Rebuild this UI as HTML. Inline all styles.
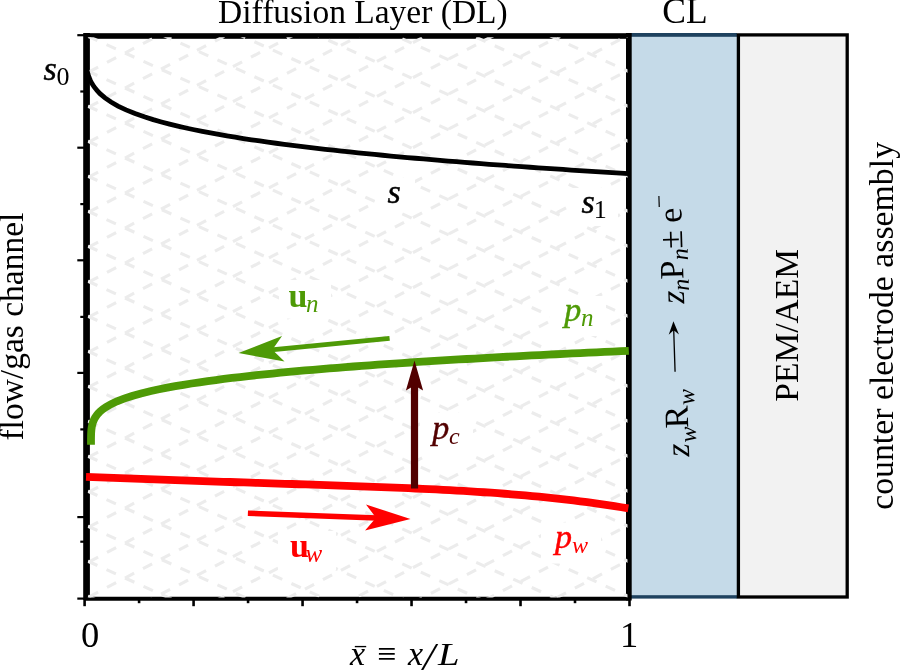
<!DOCTYPE html>
<html><head><meta charset="utf-8"><style>
html,body{margin:0;padding:0;background:#fff;}
svg{display:block;}
text{font-family:"Liberation Serif","DejaVu Serif",serif;}
</style></head><body>
<svg width="900" height="671" viewBox="0 0 900 671">
<defs><clipPath id="plot"><rect x="84" y="35" width="545" height="564"/></clipPath><clipPath id="pat"><rect x="87.6" y="37.2" width="539.9" height="560.2"/></clipPath></defs>
<rect width="900" height="671" fill="#fff"/>

<rect x="631" y="34.9" width="106" height="561.8" fill="#c5dae8"/>
<rect x="631" y="33" width="106" height="3.8" fill="#1f425f"/>
<rect x="631" y="595.2" width="106" height="3.4" fill="#1f425f"/>
<rect x="738.4" y="34.9" width="108.8" height="562.1" fill="#f2f2f2" stroke="#000" stroke-width="3.3"/>
<rect x="83.2" y="33" width="6.7" height="567" fill="#000"/>
<rect x="626" y="33" width="5.7" height="567.5" fill="#000"/>
<rect x="84" y="33.2" width="545" height="5.6" fill="#000"/>
<line x1="84" y1="598.75" x2="629" y2="598.75" stroke="#000" stroke-width="3.9"/>
<line x1="77.3" y1="35.20" x2="84" y2="35.20" stroke="#000" stroke-width="2.2"/>
<line x1="80.3" y1="91.50" x2="84" y2="91.50" stroke="#000" stroke-width="2.2"/>
<line x1="77.3" y1="147.70" x2="84" y2="147.70" stroke="#000" stroke-width="2.2"/>
<line x1="80.3" y1="204.10" x2="84" y2="204.10" stroke="#000" stroke-width="2.2"/>
<line x1="77.3" y1="260.30" x2="84" y2="260.30" stroke="#000" stroke-width="2.2"/>
<line x1="80.3" y1="316.90" x2="84" y2="316.90" stroke="#000" stroke-width="2.2"/>
<line x1="77.3" y1="372.90" x2="84" y2="372.90" stroke="#000" stroke-width="2.2"/>
<line x1="80.3" y1="429.40" x2="84" y2="429.40" stroke="#000" stroke-width="2.2"/>
<line x1="77.3" y1="517.10" x2="84" y2="517.10" stroke="#000" stroke-width="2.2"/>
<line x1="80.3" y1="541.70" x2="84" y2="541.70" stroke="#000" stroke-width="2.2"/>
<line x1="77.3" y1="598.60" x2="84" y2="598.60" stroke="#000" stroke-width="2.2"/>
<line x1="84.60" y1="599" x2="84.60" y2="606.2" stroke="#000" stroke-width="2.6"/>
<line x1="139.09" y1="599" x2="139.09" y2="603.2" stroke="#000" stroke-width="2.6"/>
<line x1="193.58" y1="599" x2="193.58" y2="606.2" stroke="#000" stroke-width="2.6"/>
<line x1="248.07" y1="599" x2="248.07" y2="603.2" stroke="#000" stroke-width="2.6"/>
<line x1="302.56" y1="599" x2="302.56" y2="606.2" stroke="#000" stroke-width="2.6"/>
<line x1="357.05" y1="599" x2="357.05" y2="603.2" stroke="#000" stroke-width="2.6"/>
<line x1="411.54" y1="599" x2="411.54" y2="606.2" stroke="#000" stroke-width="2.6"/>
<line x1="466.03" y1="599" x2="466.03" y2="603.2" stroke="#000" stroke-width="2.6"/>
<line x1="520.52" y1="599" x2="520.52" y2="606.2" stroke="#000" stroke-width="2.6"/>
<line x1="575.01" y1="599" x2="575.01" y2="603.2" stroke="#000" stroke-width="2.6"/>
<line x1="629.50" y1="599" x2="629.50" y2="606.2" stroke="#000" stroke-width="2.6"/>
<g clip-path="url(#pat)" stroke="#ececec" stroke-width="3.1" stroke-dasharray="10.3 10" fill="none">
<line x1="70.00" y1="-216.95" x2="640.00" y2="41.66" stroke-dashoffset="0.50"/>
<line x1="70.00" y1="-181.95" x2="640.00" y2="76.66" stroke-dashoffset="0.50"/>
<line x1="70.00" y1="-146.95" x2="640.00" y2="111.66" stroke-dashoffset="0.50"/>
<line x1="70.00" y1="-111.95" x2="640.00" y2="146.66" stroke-dashoffset="0.50"/>
<line x1="70.00" y1="-76.95" x2="640.00" y2="181.66" stroke-dashoffset="0.50"/>
<line x1="70.00" y1="-41.95" x2="640.00" y2="216.66" stroke-dashoffset="0.50"/>
<line x1="70.00" y1="-6.95" x2="640.00" y2="251.66" stroke-dashoffset="0.50"/>
<line x1="70.00" y1="28.05" x2="640.00" y2="286.66" stroke-dashoffset="0.50"/>
<line x1="70.00" y1="63.05" x2="640.00" y2="321.66" stroke-dashoffset="0.50"/>
<line x1="70.00" y1="98.05" x2="640.00" y2="356.66" stroke-dashoffset="0.50"/>
<line x1="70.00" y1="133.05" x2="640.00" y2="391.66" stroke-dashoffset="0.50"/>
<line x1="70.00" y1="168.05" x2="640.00" y2="426.66" stroke-dashoffset="0.50"/>
<line x1="70.00" y1="203.05" x2="640.00" y2="461.66" stroke-dashoffset="0.50"/>
<line x1="70.00" y1="238.05" x2="640.00" y2="496.66" stroke-dashoffset="0.50"/>
<line x1="70.00" y1="273.05" x2="640.00" y2="531.66" stroke-dashoffset="0.50"/>
<line x1="70.00" y1="308.05" x2="640.00" y2="566.66" stroke-dashoffset="0.50"/>
<line x1="70.00" y1="343.05" x2="640.00" y2="601.66" stroke-dashoffset="0.50"/>
<line x1="70.00" y1="378.05" x2="640.00" y2="636.66" stroke-dashoffset="0.50"/>
<line x1="70.00" y1="413.05" x2="640.00" y2="671.66" stroke-dashoffset="0.50"/>
<line x1="70.00" y1="448.05" x2="640.00" y2="706.66" stroke-dashoffset="0.50"/>
<line x1="70.00" y1="483.05" x2="640.00" y2="741.66" stroke-dashoffset="0.50"/>
<line x1="70.00" y1="518.05" x2="640.00" y2="776.66" stroke-dashoffset="0.50"/>
<line x1="70.00" y1="553.05" x2="640.00" y2="811.66" stroke-dashoffset="0.50"/>
<line x1="70.00" y1="588.05" x2="640.00" y2="846.66" stroke-dashoffset="0.50"/>
<line x1="70.00" y1="46.71" x2="640.00" y2="-250.83" stroke-dashoffset="19.16"/>
<line x1="70.00" y1="81.71" x2="640.00" y2="-215.83" stroke-dashoffset="19.16"/>
<line x1="70.00" y1="116.71" x2="640.00" y2="-180.83" stroke-dashoffset="19.16"/>
<line x1="70.00" y1="151.71" x2="640.00" y2="-145.83" stroke-dashoffset="19.16"/>
<line x1="70.00" y1="186.71" x2="640.00" y2="-110.83" stroke-dashoffset="19.16"/>
<line x1="70.00" y1="221.71" x2="640.00" y2="-75.83" stroke-dashoffset="19.16"/>
<line x1="70.00" y1="256.71" x2="640.00" y2="-40.83" stroke-dashoffset="19.16"/>
<line x1="70.00" y1="291.71" x2="640.00" y2="-5.83" stroke-dashoffset="19.16"/>
<line x1="70.00" y1="326.71" x2="640.00" y2="29.17" stroke-dashoffset="19.16"/>
<line x1="70.00" y1="361.71" x2="640.00" y2="64.17" stroke-dashoffset="19.16"/>
<line x1="70.00" y1="396.71" x2="640.00" y2="99.17" stroke-dashoffset="19.16"/>
<line x1="70.00" y1="431.71" x2="640.00" y2="134.17" stroke-dashoffset="19.16"/>
<line x1="70.00" y1="466.71" x2="640.00" y2="169.17" stroke-dashoffset="19.16"/>
<line x1="70.00" y1="501.71" x2="640.00" y2="204.17" stroke-dashoffset="19.16"/>
<line x1="70.00" y1="536.71" x2="640.00" y2="239.17" stroke-dashoffset="19.16"/>
<line x1="70.00" y1="571.71" x2="640.00" y2="274.17" stroke-dashoffset="19.16"/>
<line x1="70.00" y1="606.71" x2="640.00" y2="309.17" stroke-dashoffset="19.16"/>
<line x1="70.00" y1="641.71" x2="640.00" y2="344.17" stroke-dashoffset="19.16"/>
<line x1="70.00" y1="676.71" x2="640.00" y2="379.17" stroke-dashoffset="19.16"/>
<line x1="70.00" y1="711.71" x2="640.00" y2="414.17" stroke-dashoffset="19.16"/>
<line x1="70.00" y1="746.71" x2="640.00" y2="449.17" stroke-dashoffset="19.16"/>
<line x1="70.00" y1="781.71" x2="640.00" y2="484.17" stroke-dashoffset="19.16"/>
<line x1="70.00" y1="816.71" x2="640.00" y2="519.17" stroke-dashoffset="19.16"/>
<line x1="70.00" y1="851.71" x2="640.00" y2="554.17" stroke-dashoffset="19.16"/>
<line x1="70.00" y1="886.71" x2="640.00" y2="589.17" stroke-dashoffset="19.16"/>
</g>
<rect x="375" y="178" width="40" height="33" fill="#fff"/>
<rect x="568" y="188" width="50" height="38" fill="#fff"/>
<rect x="279" y="280" width="52" height="38.5" fill="#fff"/>
<rect x="550" y="296" width="56" height="40" fill="#fff"/>
<rect x="420" y="413" width="53" height="42" fill="#fff"/>
<rect x="278" y="531" width="58" height="39" fill="#fff"/>
<rect x="541" y="522.5" width="60" height="41" fill="#fff"/>
<path d="M85.00,32.00 L85.00,34.95 L85.00,37.80 L85.00,40.89 L85.02,44.64 L85.05,47.86 L85.10,50.79 L85.20,54.22 L85.40,58.23 L85.70,61.98 L86.00,64.63 L86.50,67.91 L87.00,70.43 L88.00,74.28 L89.00,77.24 L90.50,80.75 L92.00,83.58 L94.00,86.70 L97.00,90.50 L100.00,93.63 L105.00,97.90 L111.00,102.05 L118.00,106.04 L126.00,109.87 L135.00,113.54 L145.00,117.07 L153.19,119.63 L161.39,121.97 L169.58,124.12 L177.78,126.11 L185.97,127.98 L194.17,129.73 L202.36,131.38 L210.56,132.94 L218.75,134.43 L226.95,135.85 L235.14,137.21 L243.34,138.51 L251.53,139.76 L259.73,140.96 L267.92,142.13 L276.12,143.25 L284.31,144.33 L292.51,145.38 L300.70,146.40 L308.90,147.39 L317.09,148.36 L325.29,149.29 L333.48,150.21 L341.68,151.10 L349.87,151.96 L358.07,152.81 L366.26,153.64 L374.46,154.45 L382.65,155.24 L390.85,156.02 L399.04,156.78 L407.24,157.52 L415.43,158.25 L423.63,158.97 L431.82,159.67 L440.02,160.36 L448.21,161.04 L456.41,161.71 L464.60,162.36 L472.80,163.01 L480.99,163.64 L489.19,164.27 L497.38,164.88 L505.58,165.48 L513.77,166.08 L521.97,166.67 L530.16,167.25 L538.36,167.82 L546.55,168.38 L554.75,168.94 L562.94,169.48 L571.14,170.02 L579.33,170.56 L587.53,171.08 L595.72,171.60 L603.92,172.12 L612.11,172.63 L620.31,173.13 L628.50,173.62" fill="none" stroke="#000" stroke-width="4.8" clip-path="url(#plot)"/>
<path d="M91.00,444.80 L91.00,443.56 L91.00,442.77 L91.00,441.34 L91.00,439.70 L91.02,437.64 L91.05,435.82 L91.10,434.13 L91.20,432.11 L91.40,429.69 L91.70,427.41 L92.00,425.77 L92.50,423.72 L93.00,422.13 L94.00,419.68 L95.00,417.78 L96.50,415.51 L98.00,413.66 L100.00,411.61 L103.00,409.10 L106.00,407.01 L111.00,404.15 L117.00,401.34 L124.00,398.63 L132.00,396.01 L141.00,393.48 L151.00,391.04 L159.10,389.28 L167.20,387.67 L175.29,386.18 L183.39,384.80 L191.49,383.50 L199.59,382.28 L207.69,381.12 L215.79,380.02 L223.88,378.98 L231.98,377.98 L240.08,377.02 L248.18,376.10 L256.28,375.22 L264.38,374.36 L272.47,373.54 L280.57,372.74 L288.67,371.97 L296.77,371.22 L304.87,370.49 L312.97,369.79 L321.06,369.10 L329.16,368.43 L337.26,367.77 L345.36,367.13 L353.46,366.51 L361.56,365.90 L369.65,365.31 L377.75,364.73 L385.85,364.15 L393.95,363.60 L402.05,363.05 L410.15,362.51 L418.24,361.98 L426.34,361.46 L434.44,360.96 L442.54,360.46 L450.64,359.97 L458.74,359.48 L466.83,359.01 L474.93,358.54 L483.03,358.08 L491.13,357.63 L499.23,357.18 L507.33,356.74 L515.42,356.31 L523.52,355.88 L531.62,355.46 L539.72,355.04 L547.82,354.63 L555.92,354.23 L564.01,353.83 L572.11,353.43 L580.21,353.04 L588.31,352.66 L596.41,352.28 L604.51,351.90 L612.60,351.53 L620.70,351.16 L628.80,350.80" fill="none" stroke="#4e9a06" stroke-width="7.8"/>
<path d="M86.00,476.89 L92.86,477.14 L99.73,477.39 L106.59,477.65 L113.46,477.90 L120.32,478.15 L127.19,478.40 L134.05,478.65 L140.92,478.90 L147.78,479.15 L154.65,479.40 L161.51,479.65 L168.37,479.89 L175.24,480.14 L182.10,480.38 L188.97,480.62 L195.83,480.86 L202.70,481.09 L209.56,481.33 L216.43,481.56 L223.29,481.79 L230.16,482.02 L237.02,482.25 L243.88,482.47 L250.75,482.70 L257.61,482.92 L264.48,483.14 L271.34,483.36 L278.21,483.58 L285.07,483.80 L291.94,484.02 L298.80,484.24 L305.67,484.46 L312.53,484.68 L319.39,484.90 L326.26,485.13 L333.12,485.36 L339.99,485.59 L346.85,485.82 L353.72,486.06 L360.58,486.30 L367.45,486.55 L374.31,486.80 L381.18,487.06 L388.04,487.33 L394.91,487.61 L401.77,487.89 L408.63,488.18 L415.50,488.48 L422.36,488.80 L429.23,489.12 L436.09,489.46 L442.96,489.81 L449.82,490.18 L456.69,490.56 L463.55,490.96 L470.42,491.37 L477.28,491.81 L484.14,492.26 L491.01,492.73 L497.87,493.23 L504.74,493.75 L511.60,494.29 L518.47,494.85 L525.33,495.45 L532.20,496.07 L539.06,496.72 L545.93,497.39 L552.79,498.10 L559.65,498.85 L566.52,499.62 L573.38,500.44 L580.25,501.29 L587.11,502.17 L593.98,503.10 L600.84,504.07 L607.71,505.08 L614.57,506.13 L621.44,507.24 L628.30,508.38" fill="none" stroke="#ff0000" stroke-width="7.8"/>
<line x1="389.60" y1="338.30" x2="271.14" y2="349.90" stroke="#4e9a06" stroke-width="4.8"/><path d="M238.50,353.10 L282.04,336.02 L272.34,349.79 L284.53,361.40 Z" fill="#4e9a06"/>
<line x1="247.90" y1="513.20" x2="377.22" y2="517.89" stroke="#ff0000" stroke-width="5.5"/><path d="M410.50,519.10 L365.06,530.46 L376.02,517.85 L366.00,504.48 Z" fill="#ff0000"/>
<line x1="414.50" y1="488.50" x2="414.50" y2="384.20" stroke="#520000" stroke-width="7.2"/><path d="M414.50,360.40 L423.10,390.40 L414.50,385.40 L405.90,390.40 Z" fill="#520000"/>
<text x="362.9" y="23" font-size="33.5" text-anchor="middle">Diffusion Layer (DL)</text>
<text x="685" y="23.3" font-size="35.5" text-anchor="middle">CL</text>
<text transform="translate(23.4,326.6) rotate(-90)" font-size="33.5" text-anchor="middle">flow/gas channel</text>
<text transform="translate(892.8,325.9) rotate(-90)" font-size="33.8" text-anchor="middle">counter electrode assembly</text>
<text transform="translate(798.2,325.35) rotate(-90)" font-size="33.5" text-anchor="middle">PEM/AEM</text>
<text x="90.2" y="647.2" font-size="36.5" text-anchor="middle">0</text>
<text x="629" y="647.2" font-size="36.5" text-anchor="middle">1</text>
<text x="350" y="665" font-size="34" font-style="italic">x</text>
<text x="355" y="667.6" font-size="30" textLength="11" lengthAdjust="spacingAndGlyphs">&#175;</text>
<text x="377" y="665" font-size="34">≡</text>
<text x="408" y="665" font-size="34" font-style="italic">x</text>
<text x="423" y="669.5" font-size="40" font-style="italic" textLength="12" lengthAdjust="spacingAndGlyphs">/</text>
<text x="438" y="665" font-size="32.5" font-style="italic" textLength="21.5" lengthAdjust="spacingAndGlyphs">L</text>
<text x="43.5" y="80" font-size="34" font-style="italic" font-weight="normal" fill="#000" stroke="#000" stroke-width="0.45">s</text><text x="56.6" y="84.8" font-size="26" font-style="normal" fill="#000">0</text>
<text x="387.5" y="202.5" font-size="34" font-style="italic" font-weight="normal" fill="#000" stroke="#000" stroke-width="0.45">s</text>
<text x="581.5" y="212.5" font-size="34" font-style="italic" font-weight="normal" fill="#000" stroke="#000" stroke-width="0.45">s</text><text x="593.8" y="217.5" font-size="26" font-style="normal" fill="#000">1</text>
<text x="288.5" y="306.8" font-size="34" font-style="normal" font-weight="bold" fill="#4e9a06">u</text><text x="306" y="311.6" font-size="25" font-style="italic" fill="#4e9a06">n</text>
<text x="564.3" y="321.3" font-size="34" font-style="italic" font-weight="normal" fill="#4e9a06" stroke="#4e9a06" stroke-width="0.45">p</text><text x="581" y="326.1" font-size="25" font-style="italic" fill="#4e9a06">n</text>
<text x="432.3" y="439" font-size="34" font-style="italic" font-weight="normal" fill="#520000" stroke="#520000" stroke-width="0.45">p</text><text x="449" y="443.8" font-size="24" font-style="italic" fill="#520000">c</text>
<text x="555" y="547.5" font-size="34" font-style="italic" font-weight="normal" fill="#ff0000" stroke="#ff0000" stroke-width="0.45">p</text><text x="572" y="553" font-size="24" font-style="italic" fill="#ff0000">w</text>
<text x="290" y="557" font-size="34" font-style="normal" font-weight="bold" fill="#ff0000">u</text><text x="305.5" y="561.8" font-size="25" font-style="italic" fill="#ff0000">w</text>
<g transform="translate(689.3,456.5) rotate(-91.87)" font-size="34">
<text x="0" y="0" font-style="italic">z</text>
<text x="14" y="7.5" font-size="24" font-style="italic">w</text>
<text x="28.5" y="0">R</text>
<text x="51.5" y="7" font-size="24" font-style="italic">w</text>
<text x="0" y="0" style="font-family:&quot;WenQuanYi Zen Hei&quot;,sans-serif" font-size="60" transform="translate(81.1,0.7) scale(0.98,0.56)">→</text>
<text x="153" y="0" font-style="italic">z</text>
<text x="166" y="5" font-size="24" font-style="italic">n</text>
<text x="177.5" y="0">P</text>
<text x="196.5" y="5" font-size="24" font-style="italic">n</text>
<text x="208" y="0">±</text>
<text x="234" y="0">e</text>
<text x="249" y="-14" font-size="24">−</text>
</g>
</svg></body></html>
